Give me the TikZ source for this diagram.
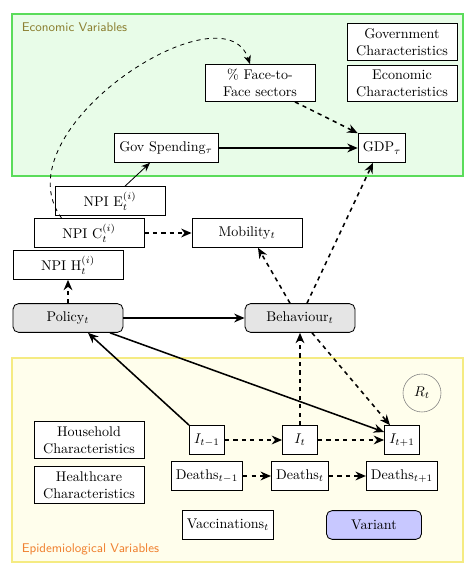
\documentclass[tikz,border=0pt]{standalone}
\usepackage{amsmath}
\usepackage{amssymb}
\usetikzlibrary{arrows.meta}
\definecolor{econframe}{RGB}{90,220,90}
\definecolor{econfill}{RGB}{232,252,232}
\definecolor{econtext}{RGB}{140,128,50}
\definecolor{epiframe}{RGB}{245,235,130}
\definecolor{epifill}{RGB}{255,254,236}
\definecolor{epitext}{RGB}{240,130,50}
\definecolor{variantfill}{RGB}{200,200,255}
\tikzset{
  var/.style={draw, line width=0.6pt, fill=white, minimum width=2.75cm, minimum height=0.72cm, align=center},
  plain/.style={draw, line width=0.6pt, fill=white, minimum height=0.72cm},
  core/.style={var, rounded corners=4pt, fill=gray!20},
  link/.style={-{Stealth[length=2.6mm,width=2.2mm]}, line width=1.1pt},
  maybe/.style={link, dashed},
}

\begin{document}
\begin{tikzpicture}
\useasboundingbox (0,0) rectangle (11.85,14.275);
\draw[econframe, fill=econfill, line width=0.8pt] (0.3,9.875) rectangle (11.575,13.925);
\draw[epiframe, fill=epifill, line width=0.8pt] (0.3,0.225) rectangle (11.575,5.325);
\node[anchor=west, text=econtext, font=\sffamily\small] (econlabel) at (0.42,13.6) {Economic Variables};
\node[anchor=west, text=epitext, font=\sffamily\small] (epilabel) at (0.42,0.55) {Epidemiological Variables};

\node[var] (govchar) at (10.05,13.225) {Government\\Characteristics};
\node[var] (econchar) at (10.05,12.2) {Economic\\Characteristics};
\node[var] (f2f) at (6.5,12.2) {\% Face-to-\\Face sectors};
\node[plain] (gdp) at (9.55,10.575) {GDP$_\tau$};
\node[plain, minimum width=2.6cm] (govspend) at (4.15,10.575) {Gov Spending$_\tau$};

\node[var] (npie) at (2.75,9.25) {NPI E$_t^{(i)}$};
\node[var] (npic) at (2.225,8.45) {NPI C$_t^{(i)}$};
\node[var] (mob) at (6.175,8.45) {Mobility$_t$};
\node[var] (npih) at (1.7,7.65) {NPI H$_t^{(i)}$};
\node[core] (policy) at (1.7,6.325) {Policy$_t$};
\node[core] (behav) at (7.5,6.325) {Behaviour$_t$};

\node[draw=gray, circle, minimum size=0.95cm] (rt) at (10.55,4.45) {$R_t$};
\node[var] (household) at (2.225,3.275) {Household\\Characteristics};
\node[var] (healthcare) at (2.225,2.15) {Healthcare\\Characteristics};
\node[plain, minimum width=0.875cm] (im1) at (5.175,3.275) {$I_{t-1}$};
\node[plain, minimum width=0.875cm] (it) at (7.5,3.275) {$I_t$};
\node[plain, minimum width=0.875cm] (ip1) at (10.05,3.275) {$I_{t+1}$};
\node[plain] (dm1) at (5.175,2.375) {Deaths$_{t-1}$};
\node[plain] (dt) at (7.5,2.375) {Deaths$_t$};
\node[plain] (dp1) at (10.05,2.375) {Deaths$_{t+1}$};
\node[plain] (vacc) at (5.7,1.15) {Vaccinations$_t$};
\node[core, fill=variantfill, minimum width=2.375cm] (variant) at (9.35,1.15) {Variant};

\draw[link] (policy) -- (behav);
\draw[maybe] (policy) -- (npih);
\draw[maybe] (npic) -- (mob);
\draw[link] (govspend) -- (gdp);
\draw[maybe] ([xshift=0.875cm]f2f.south) -- (gdp.north west);
\draw[-{Stealth[length=2.2mm,width=1.8mm]}, line width=0.6pt] ([xshift=0.375cm]npie.north) -- ([xshift=-0.4cm]govspend.south);
\draw[-{Stealth[length=2.2mm,width=1.8mm]}, line width=0.6pt, dashed] ([xshift=0.7cm]npic.north west) .. controls +(-1.6,2.2) and +(-0.65,2.0) .. ([xshift=-0.25cm]f2f.north);
\draw[maybe] ([xshift=-0.25cm]behav.north) -- ([xshift=0.275cm]mob.south);
\draw[maybe] ([xshift=0.175cm]behav.north) -- ([xshift=-0.225cm]gdp.south);
\draw[link] (im1.north west) -- ([xshift=0.5cm]policy.south);
\draw[link] ([xshift=1.05cm]policy.south) -- ([yshift=0.2cm]ip1.west);
\draw[maybe] (it) -- (behav);
\draw[maybe] ([xshift=0.3cm]behav.south) -- ([xshift=-0.3cm]ip1.north);
\draw[maybe] (im1) -- (it);
\draw[maybe] (it) -- (ip1);
\draw[maybe] (dm1) -- (dt);
\draw[maybe] (dt) -- (dp1);
\end{tikzpicture}
\end{document}
